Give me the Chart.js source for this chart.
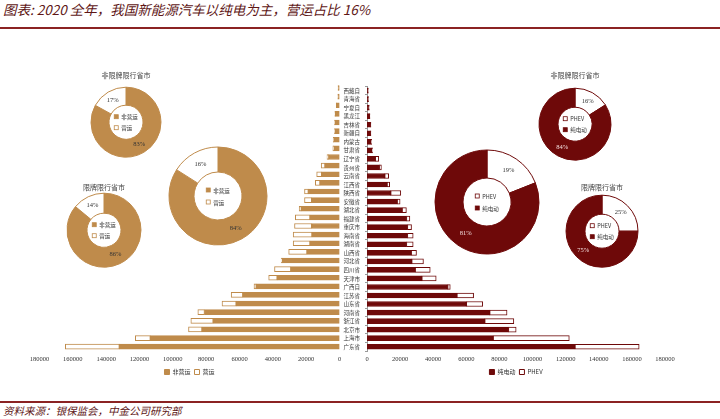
<!DOCTYPE html>
<html>
<head>
<meta charset="utf-8">
<script src="https://cdn.jsdelivr.net/npm/chart.js@4.4.1/dist/chart.umd.min.js"></script>
<style>
  body { margin: 0; width: 720px; height: 419px; position: relative; overflow: hidden; background: #fff; font-family: "Noto Sans CJK SC", sans-serif; }
  .head { position: absolute; left: 3px; top: 1px; font-size: 13.5px; line-height: 17px; font-style: italic; color: #5e1616; white-space: nowrap; }
  .rule { position: absolute; left: 0; width: 720px; height: 2px; background: #8b2323; }
  .foot { position: absolute; left: 3px; top: 403px; font-size: 10.5px; line-height: 15px; font-style: italic; color: #5e1616; white-space: nowrap; }
  canvas { position: absolute; }
</style>
</head>
<body>
<div class="head">图表: 2020 全年，我国新能源汽车以纯电为主，营运占比 16%</div>
<div class="rule" style="top:27px"></div>

<canvas id="barL" width="345" height="307" style="left:0;top:78px"></canvas>
<canvas id="barR" width="380" height="307" style="left:340px;top:78px"></canvas>

<canvas id="d1" width="90" height="94" style="left:81px;top:71px"></canvas>
<canvas id="d2" width="90" height="86" style="left:59px;top:183px"></canvas>
<canvas id="d3" width="110" height="110" style="left:163px;top:141px"></canvas>
<canvas id="d4" width="90" height="98" style="left:530px;top:71px"></canvas>
<canvas id="d5" width="116" height="116" style="left:429px;top:144px"></canvas>
<canvas id="d6" width="90" height="88" style="left:557px;top:183px"></canvas>

<div class="rule" style="top:401px"></div>
<div class="foot">资料来源：银保监会，中金公司研究部</div>

<script>
// 省份（上→下）
const provinces = ['西藏自', '青海省', '宁夏自', '黑龙江', '吉林省', '新疆自', '内蒙古', '甘肃省', '辽宁省', '贵州省',
  '云南省', '江西省', '陕西省', '安徽省', '湖北省', '福建省', '重庆市', '海南省', '湖南省', '山西省',
  '河北省', '四川省', '天津市', '广西自', '江苏省', '山东省', '河南省', '浙江省', '北京市', '上海市', '广东省'];

// 左侧：非营运 / 营运
const nonOperating = [800, 900, 1900, 2600, 2800, 2800, 3500, 3400, 6500, 8700,
  10700, 11700, 18700, 16700, 23000, 17700, 16700, 16500, 17700, 19500,
  34400, 29200, 37400, 50000, 58000, 62000, 81000, 75800, 82500, 113500, 132100];
const operating = [100, 100, 100, 200, 200, 200, 300, 600, 1000, 2300,
  3000, 2800, 2300, 4300, 1200, 8800, 10300, 11300, 10100, 11000,
  600, 9800, 5100, 1300, 7000, 8500, 4000, 13400, 8100, 9000, 32400];

// 右侧：纯电动 / PHEV
const bev = [700, 800, 1200, 1700, 2200, 2200, 2500, 3000, 5000, 7500,
  10700, 12100, 14300, 18200, 21200, 23800, 24400, 24400, 23800, 26700,
  27000, 29100, 33100, 48700, 54300, 60000, 74100, 71100, 85400, 76200, 125600];
const phev = [100, 100, 200, 100, 200, 200, 300, 400, 2100, 1200,
  2400, 1600, 6100, 1800, 2600, 2100, 2500, 3500, 4100, 3200,
  7100, 9100, 8700, 1600, 10100, 9900, 10500, 17600, 4700, 46000, 38800];

const xTicks = [0, 20000, 40000, 60000, 80000, 100000, 120000, 140000, 160000, 180000];

// 环形图（%）
const useLabels = ['非营运', '营运'];
const powerLabels = ['PHEV', '纯电动'];
const useFree = [83, 17];     // 非限牌限行省市
const useLimit = [86, 14];    // 限牌限行省市
const useAll = [84, 16];
const powerFree = [16, 84];
const powerAll = [19, 81];
const powerLimit = [25, 75];

const TAN = '#bf8b4b';
const RED = '#6e0909';
const TEXT = '#333';
const NUM_FONT = 'Liberation Serif';
const CJK_FONT = 'Noto Sans CJK SC';

Chart.defaults.animation = false;
Chart.defaults.events = [];
Chart.defaults.plugins.tooltip.enabled = false;

function barChart(id, labels, names, a, b, color, reverse, left) {
  return new Chart(document.getElementById(id), {
    type: 'bar',
    data: {
      labels: labels,
      datasets: [
        { label: names[0], data: a, backgroundColor: color, borderColor: color, borderWidth: 1, borderSkipped: false, barThickness: 5 },
        { label: names[1], data: b, backgroundColor: '#fff', borderColor: color, borderWidth: 1, borderSkipped: false, barThickness: 5 }
      ]
    },
    options: {
      indexAxis: 'y',
      responsive: false,
      layout: { padding: left ? { left: 39.5, right: 5.5, top: 5.7, bottom: 0 } : { left: 0, right: 55, top: 5.7, bottom: 0 } },
      scales: {
        x: {
          stacked: true, reverse: reverse, min: 0, max: 180000,
          afterBuildTicks: s => { s.ticks = xTicks.map(v => ({ value: v })); },
          afterFit: s => { s.height = 14; },
          grid: { display: false, drawTicks: false }, border: { display: false },
          ticks: { padding: 4, color: TEXT, maxRotation: 0, autoSkip: false, font: { size: 6.5, family: NUM_FONT }, callback: v => String(v) }
        },
        y: left ? { stacked: true, display: false } : {
          stacked: true,
          afterFit: s => { s.width = 27; },
          grid: { display: true, drawOnChartArea: false, tickLength: 2, color: '#999' },
          border: { display: true, color: '#999' },
          ticks: { autoSkip: false, padding: 5, color: TEXT, font: { size: 5.5, family: CJK_FONT } }
        }
      },
      plugins: {
        legend: {
          position: 'bottom', fullSize: false,
          labels: { boxWidth: 5, boxHeight: 5, padding: 4, color: TEXT, font: { size: 6, family: CJK_FONT } }
        }
      }
    }
  });
}

barChart('barL', provinces, ['非营运', '营运'], nonOperating, operating, TAN, true, true);
barChart('barR', provinces, ['纯电动', 'PHEV'], bev, phev, RED, false, false);

// 百分比标签 + 环内图例
const donutText = {
  id: 'donutText',
  afterDatasetsDraw(chart, args, opts) {
    const ctx = chart.ctx;
    const ds = chart.data.datasets[0];
    const meta = chart.getDatasetMeta(0);
    const total = ds.data.reduce((s, v) => s + v, 0);
    ctx.save();
    ctx.font = '6.5px "' + NUM_FONT + '"';
    ctx.textAlign = 'center';
    ctx.textBaseline = 'middle';
    meta.data.forEach((arc, i) => {
      const p = arc.tooltipPosition();
      ctx.fillStyle = ds.backgroundColor[i] === RED ? '#f3dede' : TEXT;
      ctx.fillText(Math.round(ds.data[i] / total * 100) + '%', p.x, p.y);
    });
    // 环内图例
    const cx = meta.data[0].x, cy = meta.data[0].y;
    ctx.font = '5.5px "' + CJK_FONT + '"';
    ctx.textAlign = 'left';
    const labels = chart.data.labels;
    const w = Math.max(...labels.map(t => ctx.measureText(t).width)) + 7;
    const gap = opts.gap || 11;
    labels.forEach((t, i) => {
      const y = cy + (i - (labels.length - 1) / 2) * gap;
      const x = cx - w / 2;
      ctx.fillStyle = ds.backgroundColor[i];
      ctx.strokeStyle = ds.borderColor;
      ctx.lineWidth = 0.8;
      ctx.fillRect(x, y - 2, 4, 4);
      ctx.strokeRect(x, y - 2, 4, 4);
      ctx.fillStyle = TEXT;
      ctx.fillText(t, x + 7, y + 0.5);
    });
    ctx.restore();
  }
};

function donut(id, labels, values, colors, border, r, cut, title, gap) {
  return new Chart(document.getElementById(id), {
    type: 'doughnut',
    data: {
      labels: labels,
      datasets: [{ data: values, backgroundColor: colors, borderColor: border, borderWidth: 1 }]
    },
    options: {
      responsive: false,
      radius: r,
      cutout: (cut / r * 100) + '%',
      layout: { padding: 0 },
      plugins: {
        legend: { display: false },
        title: { display: !!title, text: title || '', padding: 0, color: '#444', font: { size: 7, weight: 'normal', family: CJK_FONT, lineHeight: 1.2 } },
        donutText: { gap: gap }
      }
    },
    plugins: [donutText]
  });
}

donut('d1', useLabels, useFree, [TAN, '#fff'], TAN, 35, 17, '非限牌限行省市', 11);
donut('d2', useLabels, useLimit, [TAN, '#fff'], TAN, 37, 17, '限牌限行省市', 11);
donut('d3', useLabels, useAll, [TAN, '#fff'], TAN, 49, 24, null, 12);
donut('d4', powerLabels, powerFree, ['#fff', RED], RED, 36, 17, '非限牌限行省市', 11);
donut('d5', powerLabels, powerAll, ['#fff', RED], RED, 52, 24, null, 12);
donut('d6', powerLabels, powerLimit, ['#fff', RED], RED, 36, 17, '限牌限行省市', 11);
</script>
</body>
</html>
